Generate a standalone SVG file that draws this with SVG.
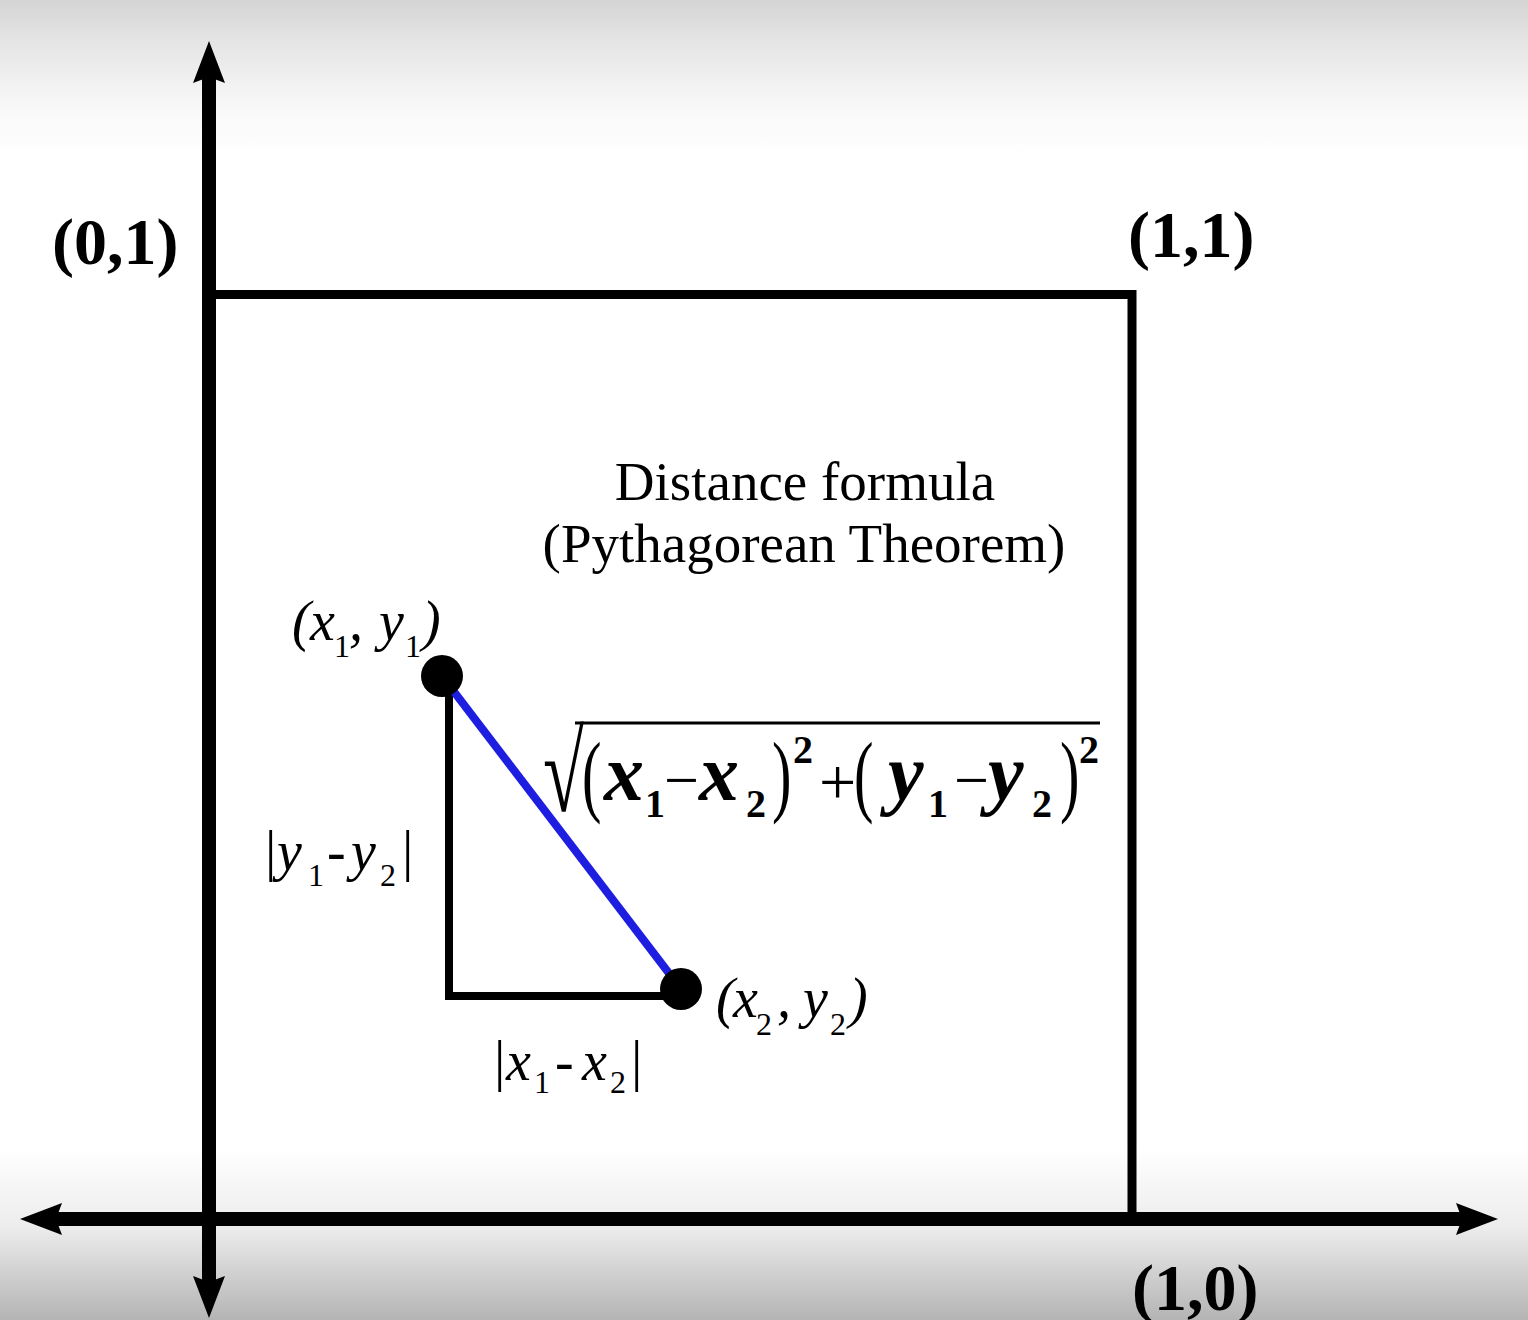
<svg xmlns="http://www.w3.org/2000/svg" width="1528" height="1320" viewBox="0 0 1528 1320">
  <defs>
    <linearGradient id="bg" x1="0" y1="0" x2="0" y2="1">
      <stop offset="0" stop-color="#d4d4d4"/>
      <stop offset="0.03" stop-color="#e4e4e4"/>
      <stop offset="0.08" stop-color="#f8f8f8"/>
      <stop offset="0.12" stop-color="#ffffff"/>
      <stop offset="0.87" stop-color="#ffffff"/>
      <stop offset="0.93" stop-color="#ececec"/>
      <stop offset="1" stop-color="#b4b4b4"/>
    </linearGradient>
    <marker id="arrow" markerUnits="userSpaceOnUse" markerWidth="44" markerHeight="34" viewBox="0 -17 44 34" refX="6" refY="0" orient="auto-start-reverse">
      <path d="M0,-16 L42,0 L0,16 L6,0 Z" fill="#000"/>
    </marker>
  </defs>
  <style>
    .axis { stroke: #000; stroke-width: 14; fill: none; }
    .box { stroke: #000; stroke-width: 9; fill: none; stroke-linejoin: miter; }
    .leg { stroke: #000; stroke-width: 8; fill: none; stroke-linejoin: miter; }
    .hyp { stroke: #1e1ee0; stroke-width: 8; }
    .dot { fill: #000; }
    .corner { font-family: "Liberation Serif", "Times New Roman", serif; font-weight: bold; font-size: 66px; fill: #000; }
    .title { font-family: "Liberation Serif", "Times New Roman", serif; font-size: 55px; fill: #000; text-anchor: middle; }
    .pt { font-family: "Liberation Serif", "Times New Roman", serif; font-style: italic; font-size: 56px; fill: #000; }
    .sub { font-family: "Liberation Serif", "Times New Roman", serif; font-size: 32px; fill: #000; }
    .fv { font-family: "Liberation Serif", "Times New Roman", serif; font-style: italic; font-weight: bold; font-size: 80px; fill: #000; }
    .fd { font-family: "Liberation Serif", "Times New Roman", serif; font-weight: bold; font-size: 40px; fill: #000; }
    .fo { font-family: "Liberation Serif", "Times New Roman", serif; font-size: 62px; fill: #000; }
    .fplus { font-family: "Liberation Serif", "Times New Roman", serif; font-size: 66px; fill: #000; }
    .fp { font-family: "Liberation Serif", "Times New Roman", serif; font-size: 90px; fill: #000; }
    .frad { font-family: "Liberation Serif", "Times New Roman", serif; font-size: 113px; fill: #000; }
  </style>
  <rect x="0" y="0" width="1528" height="1320" fill="url(#bg)"/>

  <g id="connectors">
    <path class="axis" d="M209,77 V1282" marker-start="url(#arrow)" marker-end="url(#arrow)"/>
    <path class="axis" d="M56,1219 H1462" marker-start="url(#arrow)" marker-end="url(#arrow)"/>
    <path class="box" d="M209,294.5 H1132 V1213"/>
    <path class="leg" d="M449,676 V996 H681"/>
    <line class="hyp" x1="442" y1="676" x2="681" y2="989"/>
  </g>

  <g id="point1">
    <circle class="dot" cx="442" cy="676" r="21"/>
    <text class="pt" y="640"><tspan x="292">(</tspan><tspan x="310">x</tspan><tspan x="349">,</tspan><tspan x="379">y</tspan><tspan x="422">)</tspan></text>
    <text class="sub" y="657"><tspan x="334">1</tspan><tspan x="405">1</tspan></text>
  </g>

  <g id="point2">
    <circle class="dot" cx="681" cy="989" r="21"/>
    <text class="pt" y="1017"><tspan x="716">(</tspan><tspan x="733">x</tspan><tspan x="777">,</tspan><tspan x="803">y</tspan><tspan x="849">)</tspan></text>
    <text class="sub" y="1035"><tspan x="756">2</tspan><tspan x="830">2</tspan></text>
  </g>

  <g id="label-origin-top">
    <text class="corner" x="52" y="264">(0,1)</text>
  </g>
  <g id="label-top-right">
    <text class="corner" x="1128" y="257">(1,1)</text>
  </g>
  <g id="label-bottom-right">
    <text class="corner" x="1132" y="1310">(1,0)</text>
  </g>

  <g id="title">
    <text class="title" x="805" y="500">Distance formula</text>
    <text class="title" x="804" y="562">(Pythagorean Theorem)</text>
  </g>

  <g id="dy-label">
    <text class="pt" y="870"><tspan x="262">|</tspan><tspan x="277">y</tspan><tspan x="327">-</tspan><tspan x="351">y</tspan><tspan x="399">|</tspan></text>
    <text class="sub" y="886"><tspan x="308">1</tspan><tspan x="380">2</tspan></text>
  </g>

  <g id="dx-label">
    <text class="pt" y="1080"><tspan x="491">|</tspan><tspan x="506">x</tspan><tspan x="555">-</tspan><tspan x="582">x</tspan><tspan x="628">|</tspan></text>
    <text class="sub" y="1093"><tspan x="534">1</tspan><tspan x="610">2</tspan></text>
  </g>

  <g id="formula">
    <text class="frad" transform="translate(543,811) scale(0.66,1)">√</text>
    <line x1="575" y1="723" x2="1100" y2="723" stroke="#000" stroke-width="3"/>
    <text class="fp" transform="translate(582,805) scale(0.65,1)">(</text>
    <text class="fv" x="604" y="800">x</text>
    <text class="fd" x="645" y="817">1</text>
    <text class="fo" x="664" y="801">−</text>
    <text class="fv" x="699" y="800">x</text>
    <text class="fd" x="746" y="817">2</text>
    <text class="fp" transform="translate(772,805) scale(0.65,1)">)</text>
    <text class="fd" x="793" y="763">2</text>
    <text class="fplus" x="819" y="804">+</text>
    <text class="fp" transform="translate(854,805) scale(0.65,1)">(</text>
    <text class="fv" x="888" y="800">y</text>
    <text class="fd" x="928" y="817">1</text>
    <text class="fo" x="954" y="801">−</text>
    <text class="fv" x="988" y="800">y</text>
    <text class="fd" x="1032" y="817">2</text>
    <text class="fp" transform="translate(1060,805) scale(0.65,1)">)</text>
    <text class="fd" x="1079" y="763">2</text>
  </g>
</svg>
